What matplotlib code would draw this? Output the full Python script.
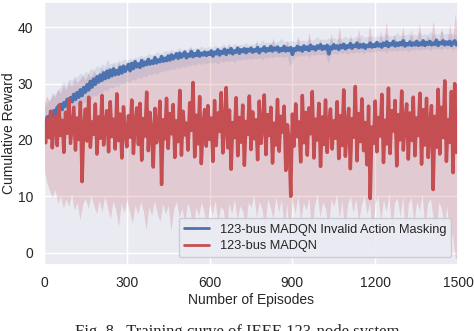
import numpy as np
import matplotlib
matplotlib.use("Agg")
import matplotlib.pyplot as plt
import seaborn as sns

# ---------------- data ----------------
line_step = 6      # episodes between plotted line samples
band_step = 10     # episodes between band samples

blue_mean = [
    23.0, 22.6, 24.1, 23.4, 24.6, 24.0, 25.2, 24.5, 25.8, 25.1, 26.3, 25.4, 26.6, 26.0, 27.2, 26.4, 27.5, 26.8, 28.1, 27.2, 28.4, 27.6, 28.9, 27.9, 29.3,
    28.5, 29.8, 28.9, 30.4, 29.4, 30.8, 29.9, 31.2, 30.3, 31.5, 30.6, 31.9, 30.9, 32.2, 31.1, 32.4, 31.4, 32.6, 31.6, 32.3, 31.7, 32.9, 31.9, 33.1, 32.2,
    32.8, 33.4, 32.3, 33.6, 32.7, 33.9, 33.0, 33.5, 32.9, 34.1, 33.2, 33.8, 33.4, 34.3, 33.5, 34.0, 33.6, 34.6, 33.7, 34.2, 33.9, 34.8, 34.0, 34.5, 34.1,
    34.9, 34.2, 35.1, 34.4, 34.8, 35.3, 34.5, 35.4, 34.7, 35.1, 35.6, 34.6, 35.2, 34.9, 35.7, 34.8, 35.3, 35.0, 35.8, 34.9, 35.4, 35.1, 35.6, 35.0, 35.5,
    35.2, 35.8, 34.9, 35.6, 35.3, 36.0, 35.1, 35.7, 35.4, 36.1, 35.2, 35.9, 35.5, 36.2, 35.3, 35.8, 35.6, 36.3, 35.4, 36.0, 35.7, 36.2, 35.5, 36.1, 35.8,
    36.3, 35.6, 36.0, 35.8, 36.4, 35.5, 36.1, 35.9, 36.5, 35.7, 36.2, 35.9, 36.6, 35.8, 36.3, 36.0, 36.5, 35.7, 36.2, 35.9, 36.6, 35.8, 36.3, 35.9, 36.4,
    35.2, 36.2, 35.9, 36.6, 36.0, 36.4, 35.8, 36.7, 36.1, 36.5, 35.9, 36.8, 36.2, 36.5, 36.0, 36.7, 36.3, 36.9, 36.1, 36.6, 36.2, 36.8, 35.3, 36.5, 36.2,
    36.9, 36.3, 36.7, 36.1, 36.8, 36.4, 37.0, 36.2, 36.7, 36.5, 37.1, 36.3, 36.8, 36.6, 37.2, 36.4, 36.9, 36.5, 37.0, 36.3, 36.8, 36.6, 37.2, 36.5, 36.9,
    36.6, 37.3, 36.7, 37.0, 36.5, 37.2, 36.8, 37.4, 36.6, 37.1, 36.9, 37.5, 36.7, 37.2, 36.8, 37.3, 36.9, 37.6, 36.7, 37.1, 36.9, 37.4, 36.8, 37.2, 36.9,
    37.5, 36.8, 37.2, 36.9, 37.6, 36.8, 37.3, 37.0, 37.5, 36.9, 37.2, 37.0, 37.7, 36.8, 37.3, 37.1, 37.6, 36.9, 37.4, 37.0, 37.5, 36.8, 37.3, 37.6, 36.9,
    37.2,
]

red_mean = [
    22.0, 19.5, 23.8, 20.4, 25.1, 18.6, 22.7, 24.3, 19.0, 26.2, 20.8, 23.5, 17.8, 24.9, 21.2, 27.3, 19.4, 22.6, 25.8, 18.2, 23.9, 20.1, 26.7, 12.6, 22.4,
    25.5, 19.8, 27.6, 18.7, 23.2, 21.0, 26.4, 17.5, 24.1, 20.3, 27.9, 19.1, 22.8, 25.2, 17.9, 26.8, 20.6, 23.7, 18.4, 28.2, 19.9, 24.6, 16.8, 25.9, 21.3,
    18.8, 24.3, 20.5, 27.1, 17.6, 22.9, 25.7, 19.2, 26.5, 16.4, 23.8, 20.7, 28.5, 18.1, 24.9, 21.4, 15.2, 25.6, 19.5, 22.3, 26.9, 12.1, 23.6, 20.2, 27.4,
    18.5, 24.7, 21.1, 26.3, 16.9, 23.4, 19.7, 28.8, 17.3, 25.1, 20.9, 23.0, 18.2, 26.6, 21.7, 30.2, 17.0, 24.4, 19.3, 27.7, 15.8, 22.5, 25.4, 18.9, 26.1,
    20.1, 23.9, 16.2, 27.0, 19.0, 24.8, 21.5, 28.4, 17.7, 22.2, 29.3, 18.6, 25.3, 14.8, 23.1, 20.4, 27.5, 17.2, 24.0, 19.6, 26.2, 15.5, 23.3, 21.0, 27.8,
    18.3, 25.0, 20.2, 23.6, 16.5, 26.9, 19.4, 22.4, 28.0, 17.4, 24.5, 20.8, 25.8, 15.9, 23.0, 19.1, 27.2, 18.0, 24.2, 21.4, 26.0, 14.6, 22.7, 19.8, 10.0,
    24.6, 18.9, 26.4, 20.6, 23.2, 16.1, 27.9, 19.5, 24.9, 17.3, 25.7, 21.1, 28.6, 16.8, 23.7, 20.0, 26.5, 15.3, 24.1, 19.2, 27.1, 17.8, 22.9, 25.5, 18.4,
    23.4, 20.3, 26.8, 16.7, 24.3, 19.0, 28.9, 17.1, 22.5, 25.6, 14.9, 23.8, 20.5, 29.5, 16.3, 24.7, 19.7, 27.3, 18.1, 23.1, 15.6, 26.0, 9.6, 22.3, 19.4,
    26.9, 17.9, 24.0, 20.7, 28.1, 16.0, 23.5, 19.3, 29.2, 17.6, 25.2, 21.6, 27.0, 15.4, 24.5, 20.0, 28.7, 18.2, 23.3, 26.4, 16.6, 24.8, 19.9, 27.6, 17.2,
    23.9, 20.8, 28.3, 15.7, 25.4, 19.1, 27.4, 16.9, 22.6, 26.1, 11.2, 24.2, 18.7, 29.0, 17.5, 25.8, 20.4, 30.5, 16.2, 23.6, 19.6, 28.6, 14.2, 30.0, 17.8,
    25.0,
]

blue_hi = [
    25.8, 26.6, 27.0, 27.9, 28.3, 28.8, 29.5, 30.4, 29.9, 30.8, 30.6, 31.3, 31.1, 31.9, 31.5,
    32.2, 31.9, 32.8, 32.4, 33.2, 32.9, 33.5, 33.2, 34.3, 33.5, 33.8, 33.7, 34.1, 33.9, 34.5,
    34.1, 34.6, 34.3, 34.8, 34.6, 35.1, 34.8, 35.0, 35.4, 35.1, 35.3, 35.7, 35.4, 35.5, 35.9,
    35.7, 36.1, 35.8, 36.0, 36.4, 36.0, 36.2, 36.1, 36.5, 36.2, 36.4, 36.3, 36.7, 36.3, 36.5,
    36.6, 36.4, 36.9, 36.5, 36.7, 37.1, 36.6, 36.8, 36.7, 37.2, 36.8, 37.0, 36.9, 37.3, 36.9,
    37.1, 37.0, 37.4, 37.1, 37.8, 37.2, 37.4, 37.3, 37.6, 37.3, 37.5, 38.1, 37.4, 37.6, 37.5,
    37.7, 37.4, 37.9, 37.6, 37.8, 37.5, 38.0, 37.7, 37.9, 38.4, 37.7, 38.0, 37.8, 38.1, 37.9,
    38.2, 37.9, 38.1, 38.0, 38.5, 38.0, 38.2, 38.1, 38.4, 38.1, 38.8, 38.2, 38.4, 38.3, 38.5,
    38.3, 38.6, 38.3, 38.5, 39.0, 38.4, 38.6, 38.5, 39.1, 38.5, 38.7, 38.6, 38.9, 38.5, 38.8,
    38.6, 39.2, 38.7, 38.9, 38.6, 39.3, 38.7, 38.9, 38.8, 39.4, 38.7, 39.0, 38.8, 39.1, 38.7,
    38.5,
]

blue_lo = [
    20.5, 21.0, 21.6, 22.0, 22.7, 22.9, 23.6, 23.9, 24.5, 24.6, 25.3, 25.4, 26.0, 25.9, 26.6,
    26.7, 27.3, 27.2, 27.9, 27.8, 28.4, 28.3, 28.9, 28.7, 29.4, 29.2, 29.7, 29.5, 30.1, 29.9,
    30.4, 30.2, 30.8, 30.6, 31.1, 30.9, 31.4, 31.2, 31.7, 31.5, 31.9, 31.7, 32.2, 32.0, 32.4,
    32.3, 32.6, 32.5, 32.9, 32.7, 33.1, 32.9, 33.3, 33.1, 33.5, 33.3, 33.6, 33.4, 33.7, 33.5,
    33.8, 33.6, 33.9, 33.4, 34.0, 33.8, 34.1, 33.9, 34.2, 33.7, 34.3, 34.1, 34.4, 34.2, 34.5,
    34.3, 34.6, 34.4, 34.7, 34.2, 34.7, 34.5, 34.8, 34.6, 34.9, 34.7, 34.9, 34.6, 34.9, 33.2,
    33.8, 35.0, 34.8, 35.1, 34.9, 35.2, 34.7, 35.2, 35.0, 35.3, 35.1, 35.3, 35.0, 33.6, 35.2,
    35.4, 35.2, 35.5, 35.3, 35.6, 35.1, 35.6, 35.4, 35.7, 35.5, 35.7, 35.3, 35.8, 35.5, 35.8,
    35.6, 35.9, 35.7, 35.9, 35.4, 36.0, 35.7, 36.0, 35.8, 36.1, 35.8, 36.1, 35.6, 36.1, 35.9,
    36.2, 35.9, 36.2, 36.0, 36.3, 35.8, 36.3, 36.1, 36.3, 36.0, 36.4, 36.1, 36.4, 36.0, 36.3,
    36.1,
]

red_hi = [
    26.5, 27.8, 26.9, 28.4, 27.6, 29.1, 28.3, 29.8, 28.9, 30.4, 29.5, 31.0, 30.1, 30.8, 31.5,
    30.7, 31.9, 31.2, 32.4, 31.6, 32.1, 32.9, 31.8, 33.2, 32.4, 33.6, 32.7, 33.9, 32.9, 33.5,
    33.1, 34.0, 33.3, 34.3, 33.6, 33.9, 34.6, 33.8, 34.8, 34.0, 35.2, 34.1, 34.7, 34.4, 35.0,
    34.5, 35.3, 34.7, 35.1, 34.8, 35.6, 34.9, 35.2, 36.8, 35.0, 35.5, 35.2, 35.8, 35.1, 35.6,
    35.3, 35.9, 35.2, 35.7, 35.4, 36.0, 35.3, 37.4, 35.5, 36.1, 35.6, 35.9, 35.5, 36.2, 35.7,
    36.0, 35.6, 37.8, 35.8, 36.3, 35.7, 36.1, 35.9, 38.2, 35.8, 36.4, 36.0, 36.2, 37.6, 36.1,
    36.3, 36.0, 38.5, 36.2, 36.5, 36.1, 39.2, 36.3, 36.6, 36.2, 38.0, 36.4, 36.7, 36.3, 39.0,
    36.5, 36.8, 40.2, 36.4, 36.9, 36.6, 38.7, 36.5, 37.0, 39.8, 36.6, 37.1, 36.7, 40.5, 36.8,
    37.0, 36.7, 39.4, 36.9, 41.0, 36.8, 37.2, 38.9, 36.9, 37.3, 40.1, 37.0, 37.4, 39.6, 37.1,
    37.3, 40.8, 37.0, 37.5, 38.8, 37.2, 41.3, 37.4, 37.1, 39.9, 37.5, 37.2, 40.6, 37.6, 42.5,
    37.0,
]

red_lo = [
    15.0, 12.5, 11.0, 9.8, 11.2, 8.7, 10.1, 7.9, 9.5, 8.2, 10.4, 7.5, 9.0, 5.8, 8.6,
    9.7, 7.8, 10.2, 8.4, 6.9, 9.3, 7.2, 10.0, 8.1, 6.0, 9.1, 7.6, 4.6, 8.8, 7.0,
    9.4, 7.3, 5.2, 8.5, 6.8, 9.0, 7.4, 4.0, 8.2, 6.6, 9.2, 7.1, 5.5, 8.7, 6.9,
    8.4, 3.8, 7.8, 9.1, 6.2, 8.0, 5.0, 8.9, 7.3, 3.5, 8.1, 6.5, 9.0, 7.2, 4.8,
    8.6, 6.7, 9.3, 5.4, 8.2, 7.5, 3.2, 8.8, 6.9, 9.5, 5.9, 8.3, 7.4, 4.2, 9.0,
    8.0, 10.2, 6.3, 9.1, 7.7, 3.9, 9.6, 8.1, 6.0, 10.0, 7.2, 9.4, 4.5, 8.6, 2.0,
    9.2, 7.0, 10.1, 5.6, 8.9, 7.6, 9.8, 3.0, 8.4, 10.3, 6.4, 9.0, 7.8, 4.1, 9.5,
    8.2, 10.4, 6.1, 9.3, 2.8, 8.7, 10.0, 7.1, 9.6, 5.3, 8.5, 10.2, 6.8, 9.0, 1.5,
    8.8, 10.1, 5.7, 9.4, 7.3, 10.5, 3.6, 8.9, 9.7, 6.4, 10.0, 2.5, 8.6, 9.9, 5.0,
    9.1, 7.5, 10.3, 4.4, 8.8, 9.6, 6.2, 2.2, 9.0, 7.8, 4.9, 8.3, 1.0, 3.5, -1.0,
    -1.2,
]

labels = ["123-bus MADQN Invalid Action Masking", "123-bus MADQN"]
x_ticks = [0, 300, 600, 900, 1200, 1500]
y_ticks = [0, 10, 20, 30, 40]
x_label = "Number of Episodes"
y_label = "Cumulative Reward"
caption = "Fig. 8.  Training curve of IEEE 123-node system."

# ---------------- drawing ----------------
sns.set_theme(style="darkgrid")
plt.rcParams['font.family'] = ['Liberation Sans', 'DejaVu Sans']

blue = "#4c72b0"
red = "#c44e52"

x_line = np.arange(len(blue_mean)) * line_step
x_band = np.arange(len(blue_hi)) * band_step

fig = plt.figure(figsize=(4.74, 3.31), dpi=100)
ax = fig.add_axes([44 / 474, 1 - 265 / 331, 414 / 474, 263 / 331])

ax.fill_between(x_band, red_lo, red_hi, color=red, alpha=0.2, linewidth=0)
ax.fill_between(x_band, blue_lo, blue_hi, color=blue, alpha=0.13, linewidth=0)
ax.plot(x_line, blue_mean, color=blue, linewidth=2.6, label=labels[0])
ax.plot(x_line, red_mean, color=red, linewidth=2.5, label=labels[1])

ax.set_xlim(0, 1500)
ax.set_ylim(-2.2, 44.5)
ax.set_xticks(x_ticks)
ax.set_yticks(y_ticks)
ax.tick_params(axis='both', labelsize=10, length=0, pad=8)
ax.set_xlabel(x_label, fontsize=10, labelpad=2)
ax.set_ylabel(y_label, fontsize=10)
ax.yaxis.set_label_coords(-0.068, 0.5)

leg = ax.legend(loc='lower right', fontsize=9.2, frameon=True,
                bbox_to_anchor=(0.99, 0.02), borderaxespad=0.2,
                handlelength=2.0, labelspacing=0.35)
leg.get_frame().set_facecolor('#eaeaf2')
leg.get_frame().set_edgecolor('#c8c8d0')
leg.get_frame().set_alpha(0.9)
for line in leg.get_lines():
    line.set_linewidth(2.0)

fig.text(0.505, 1 - 324 / 331, caption, ha='center', va='top',
         fontsize=12, family=['Liberation Serif', 'DejaVu Serif'])

fig.savefig("out.png", dpi=100)
